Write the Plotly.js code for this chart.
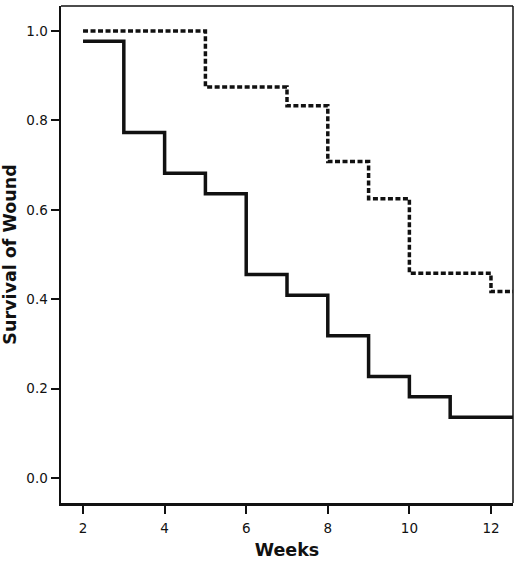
<!DOCTYPE html>
<html>
<head>
<meta charset="utf-8">
<script src="https://cdn.plot.ly/plotly-3.0.1.min.js"></script>
<style>html,body{margin:0;padding:0;background:#fff;}#chart{width:520px;height:561px;}</style>
</head>
<body>
<div id="chart"></div>
<script>
// Kaplan-Meier step data (weeks, survival)
var weeksSolid = [2, 3, 4, 5, 6, 7, 8, 9, 10, 11, 12.6];
var survivalSolid = [0.977, 0.773, 0.682, 0.636, 0.455, 0.409, 0.318, 0.227, 0.182, 0.136, 0.136];
var weeksDashed = [2, 5, 7, 8, 9, 10, 12, 12.6];
var survivalDashed = [1.0, 0.875, 0.833, 0.708, 0.625, 0.458, 0.417, 0.417];
var xTickVals = [2, 4, 6, 8, 10, 12];
var yTickVals = [0.0, 0.2, 0.4, 0.6, 0.8, 1.0];
var yTickText = ["0.0", "0.2", "0.4", "0.6", "0.8", "1.0"];

var traces = [
  {x: weeksSolid, y: survivalSolid, type: 'scatter', mode: 'lines',
   line: {shape: 'hv', color: '#111', width: 3.5}, hoverinfo: 'skip'},
  {x: weeksDashed, y: survivalDashed, type: 'scatter', mode: 'lines',
   line: {shape: 'hv', color: '#111', width: 3.5, dash: '5px,2.5px'}, hoverinfo: 'skip'}
];

var layout = {
  width: 520, height: 561,
  margin: {l: 61, r: 7, t: 6, b: 58},
  paper_bgcolor: '#fff', plot_bgcolor: '#fff',
  showlegend: false,
  font: {family: 'DejaVu Sans, Verdana, sans-serif', color: '#111'},
  xaxis: {
    range: [1.46, 12.54], tickvals: xTickVals,
    ticks: 'outside', ticklen: 8, tickwidth: 2, tickcolor: '#111',
    ticklabelstandoff: 3,
    showline: true, linewidth: 2.5, linecolor: '#111',
    showgrid: false, zeroline: false,
    tickfont: {size: 13.5, color: '#111'},
    title: {text: 'Weeks', font: {size: 17.5, color: '#111', weight: 'bold'}, standoff: 9}
  },
  yaxis: {
    range: [-0.056, 1.056], tickvals: yTickVals, ticktext: yTickText,
    ticks: 'outside', ticklen: 8, tickwidth: 2, tickcolor: '#111',
    showline: true, linewidth: 2.5, linecolor: '#111',
    showgrid: false, zeroline: false,
    tickfont: {size: 13.5, color: '#111'},
    title: {text: 'Survival of Wound', font: {size: 17.5, color: '#111', weight: 'bold'}, standoff: 5}
  },
  shapes: [
    {type: 'line', xref: 'paper', yref: 'paper', x0: 0, x1: 1, y0: 1, y1: 1, line: {color: '#111', width: 1.5}},
    {type: 'line', xref: 'paper', yref: 'paper', x0: 1, x1: 1, y0: 0, y1: 1, line: {color: '#111', width: 1.5}}
  ]
};

Plotly.newPlot('chart', traces, layout, {staticPlot: true, displayModeBar: false});
</script>
</body>
</html>
